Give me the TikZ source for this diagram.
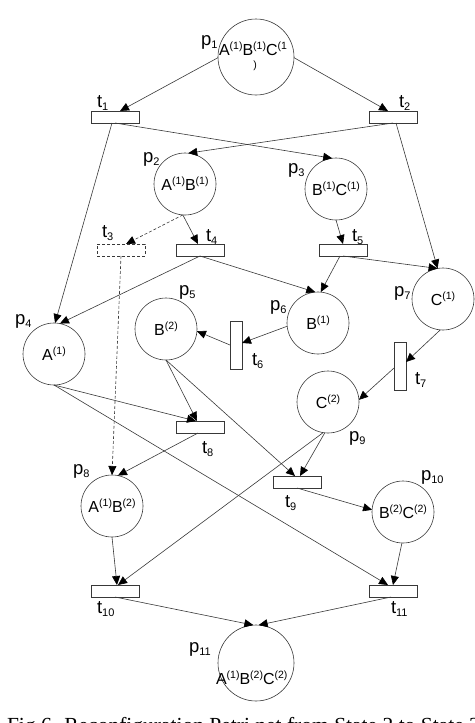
\documentclass[tikz,border=0pt]{standalone}
\usepackage{fontspec}
\setmainfont{Liberation Sans}
\newfontfamily\capfont{Liberation Serif}
\usetikzlibrary{arrows.meta}
\definecolor{linecol}{gray}{0.22}
\newcommand\sx[1]{\raisebox{6pt}{\fontsize{10.5pt}{10.5pt}\selectfont(#1)}}
\newcommand\sxo[1]{\raisebox{6pt}{\fontsize{10.5pt}{10.5pt}\selectfont#1}}
\newcommand\lb[2]{#1\raisebox{-3pt}{\fontsize{11pt}{11pt}\selectfont #2}}
\begin{document}
\begin{tikzpicture}[x=1pt,y=-1pt,
  line width=0.6pt,
  every node/.style={inner sep=0pt, outer sep=0pt},
  place/.style={draw=linecol, circle, minimum size=62pt, font=\fontsize{16pt}{16pt}\selectfont},
  bigplace/.style={draw=linecol, circle, minimum size=76pt},
  trans/.style={draw=linecol, fill=white, minimum width=48pt, minimum height=12pt},
  vtrans/.style={draw=linecol, fill=white, minimum width=12pt, minimum height=48pt},
  dtrans/.style={trans, dash pattern=on 3pt off 2pt},
  arc/.style={draw=linecol, -{Triangle[length=9pt,width=8pt,color=black]}},
  darc/.style={arc, dash pattern=on 3pt off 2pt},
  ptext/.style={font=\fontsize{16pt}{16pt}\selectfont},
  lab/.style={anchor=base west, font=\fontsize{18.5pt}{18.5pt}\selectfont},
]
\useasboundingbox (0,0) rectangle (474,723);

% places
\node[bigplace] (p1) at (256,57) {};
\node[ptext, anchor=base west] (p1t) at (219,55) {A\sx{1}B\sx{1}C\sxo{(1}};
\node[anchor=base] (p1r) at (255,68) {\fontsize{10.5pt}{10.5pt}\selectfont )};
\node[place] (p2) at (185,184) {A\sx{1}B\sx{1}};
\node[place] (p3) at (336,189) {B\sx{1}C\sx{1}};
\node[place] (p4) at (54,354) {A\sx{1}};
\node[place] (p5) at (166,329) {B\sx{2}};
\node[place] (p6) at (318,323) {B\sx{1}};
\node[place] (p7) at (443,299) {C\sx{1}};
\node[place] (p8) at (112,506) {A\sx{1}B\sx{2}};
\node[place] (p9) at (328,402) {C\sx{2}};
\node[place] (p10) at (403,512) {B\sx{2}C\sx{2}};
\node[bigplace] (p11) at (256,663) {};
\node[ptext, anchor=base west] (p11t) at (216,684) {A\sx{1}B\sx{2}C\sx{2}};

% transitions
\node[trans] (t1) at (115,117) {};
\node[trans] (t2) at (393,117) {};
\node[dtrans] (t3) at (121,250) {};
\node[trans] (t4) at (200,250) {};
\node[trans] (t5) at (343,250) {};
\node[vtrans] (t6) at (236,345) {};
\node[vtrans] (t7) at (400,366) {};
\node[trans] (t8) at (200,427) {};
\node[trans] (t9) at (297,482) {};
\node[trans] (t10) at (115,591) {};
\node[trans] (t11) at (393,591) {};

% labels
\node[lab] (lp1) at (201,45) {\lb{p}{1}};
\node[lab] (lp2) at (143,162) {\lb{p}{2}};
\node[lab] (lp3) at (288,173) {\lb{p}{3}};
\node[lab] (lp4) at (15,324) {\lb{p}{4}};
\node[lab] (lp5) at (179,295) {\lb{p}{5}};
\node[lab] (lp6) at (270,310) {\lb{p}{6}};
\node[lab] (lp7) at (394,296) {\lb{p}{7}};
\node[lab] (lp8) at (73,474) {\lb{p}{8}};
\node[lab] (lp9) at (349,441) {\lb{p}{9}};
\node[lab] (lp10) at (421,480) {\lb{p}{10}};
\node[lab] (lp11) at (189,652) {\lb{p}{11}};
\node[lab] (lt1) at (97,107) {\lb{t}{1}};
\node[lab] (lt2) at (399,107) {\lb{t}{2}};
\node[lab] (lt3) at (102,237) {\lb{t}{3}};
\node[lab] (lt4) at (206,241) {\lb{t}{4}};
\node[lab] (lt5) at (352,241) {\lb{t}{5}};
\node[lab] (lt6) at (252,365) {\lb{t}{6}};
\node[lab] (lt7) at (415,384) {\lb{t}{7}};
\node[lab] (lt8) at (202,453) {\lb{t}{8}};
\node[lab] (lt9) at (285,507) {\lb{t}{9}};
\node[lab] (lt10) at (97,613) {\lb{t}{10}};
\node[lab] (lt11) at (391,613) {\lb{t}{11}};

% arcs
\draw[arc] (p1.181) -- ([xshift=5pt]t1.north);
\draw[arc] (p1.-1) -- ([xshift=-5pt]t2.north);
\draw[arc] (t1.south) -- (p3.97);
\draw[arc] ([xshift=-3pt]t1.south) -- (p4.88);
\draw[arc] (t2.south) -- (p2.84);
\draw[arc] ([xshift=3pt]t2.south) -- (p7.100);
\draw[arc] (p2.266) -- ([xshift=-2pt]t4.north);
\draw[darc] (p2.266) -- ([xshift=5pt]t3.north);
\draw[arc] (p3.south) -- (t5.north);
\draw[arc] (t4.south) -- (p4.79);
\draw[arc] (t4.south) -- (p6.95);
\draw[arc] ([xshift=-3pt]t5.south) -- (p6.85);
\draw[arc] (t5.south) -- (p7.100);
\draw[arc] (p6.186) -- ([yshift=2pt]t6.east);
\draw[arc] (t6.west) -- (p5.-4);
\draw[arc] (p7.-95) -- ([yshift=4pt]t7.east);
\draw[arc] ([yshift=-2pt]t7.west) -- (p9.4);
\draw[arc] (p4.south) -- ([xshift=-4pt]t8.north);
\draw[arc] (p5.south) -- ([xshift=-3pt]t8.north);
\draw[arc] (p4.south) -- ([xshift=-5pt]t11.north);
\draw[arc] (p5.south) -- ([xshift=-2pt]t9.north);
\draw[arc] (p9.-96) -- ([xshift=3pt]t9.north);
\draw[arc] (p9.-99) -- ([xshift=3pt]t10.north);
\draw[darc] (t3.south) -- (p8.north);
\draw[arc] ([xshift=-2pt]t8.south) -- (p8.79);
\draw[arc] (t9.south) -- (p10.176);
\draw[arc] (p8.south) -- ([xshift=2pt]t10.north);
\draw[arc] (p10.-92) -- (t11.north);
\draw[arc] (t10.south) -- (p11.94);
\draw[arc] ([xshift=-2pt]t11.south) -- (p11.86);

% caption (cut by the page edge, as in the reference)
\node[anchor=base west, font=\capfont\fontsize{21.5pt}{21.5pt}\selectfont] (cap) at (7,732) {Fig.6. Reconfiguration Petri net from State 2 to State 3};
\end{tikzpicture}
\end{document}
